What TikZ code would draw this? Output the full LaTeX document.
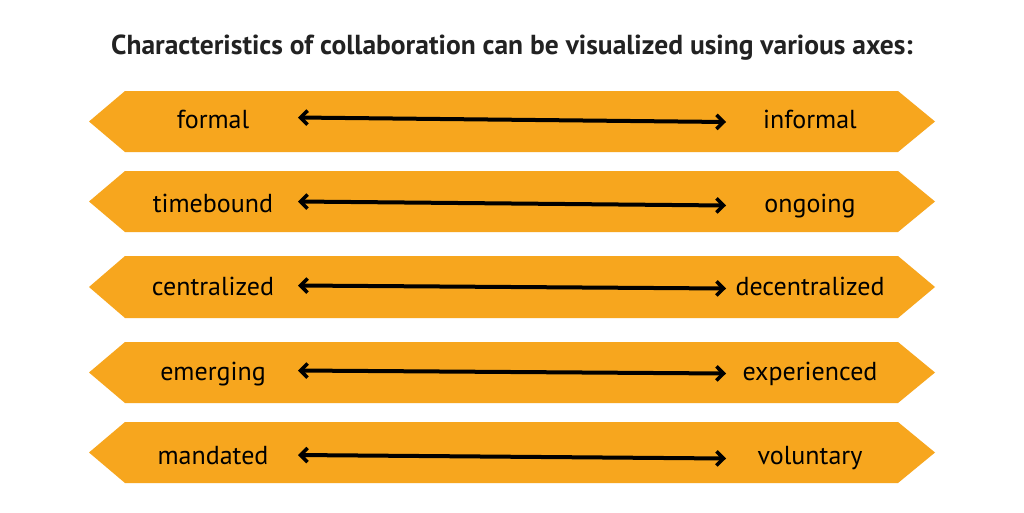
\documentclass[tikz,border=0pt]{standalone}
\usepackage{fontspec}
\setmainfont{PT Sans}
\usetikzlibrary{arrows.meta}
\definecolor{bandorange}{HTML}{F7A61E}
\definecolor{titlegray}{HTML}{222222}
\tikzset{
  band/.style={fill=bandorange, draw=none},
  lbl/.style={font=\fontsize{26}{30}\selectfont, text=black, inner sep=0pt, anchor=base},
  axis/.style={draw=black, line width=4pt, line cap=round,
    {Straight Barb[length=7pt,width=14pt,line width=3.6pt]}-{Straight Barb[length=7pt,width=14pt,line width=3.6pt]}},
}
\newcommand{\bandpath}[2]{%
  \path[band] (89,{(#1+#2)/2}) -- (125,#1) -- (898,#1) -- (935,{(#1+#2)/2}) -- (898,#2) -- (125,#2) -- cycle;}
\begin{document}
\begin{tikzpicture}[x=1pt,y=-1pt]
\useasboundingbox[fill=white] (0,0) rectangle (1024,512);
\node[font=\bfseries\fontsize{27.5}{31}\selectfont, text=titlegray, inner sep=0pt] (title) at (512,48) {Characteristics of collaboration can be visualized using various axes:};

\bandpath{91}{152}
\bandpath{171}{232}
\bandpath{256}{318}
\bandpath{342}{403}
\bandpath{422}{483}

\node[lbl] (l1) at (213,128) {formal};
\node[lbl] (r1) at (810,128) {informal};
\node[lbl] (l2) at (213,212) {timebound};
\node[lbl] (r2) at (810,212) {ongoing};
\node[lbl] (l3) at (213,295) {centralized};
\node[lbl] (r3) at (810,295) {decentralized};
\node[lbl] (l4) at (213,380) {emerging};
\node[lbl] (r4) at (810,380) {experienced};
\node[lbl] (l5) at (213,464) {mandated};
\node[lbl] (r5) at (810,464) {voluntary};

\coordinate (a1) at (298,117.5); \coordinate (b1) at (726,122);
\coordinate (a2) at (298,201.5); \coordinate (b2) at (726,205.5);
\coordinate (a3) at (298,285.5); \coordinate (b3) at (726,288.5);
\coordinate (a4) at (298,370.5); \coordinate (b4) at (726,373.5);
\coordinate (a5) at (298,455); \coordinate (b5) at (726,458.5);
\foreach \i in {1,...,5} { \draw[axis] (a\i) -- (b\i); }
\end{tikzpicture}
\end{document}
